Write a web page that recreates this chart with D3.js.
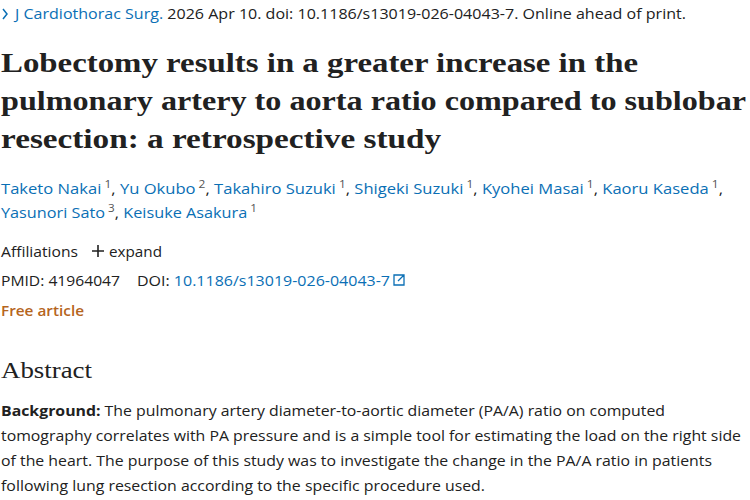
<!DOCTYPE html>
<html><head><meta charset="utf-8">
<script src="https://cdn.jsdelivr.net/npm/d3@7"></script>
<style>body{margin:0;background:#fff}</style></head>
<body><svg id="c" width="750" height="500"></svg>
<script>
const journal = "J Cardiothorac Surg.";
const citation = " 2026 Apr 10. doi: 10.1186/s13019-026-04043-7. Online ahead of print.";
const titleLines = ["Lobectomy results in a greater increase in the",
  "pulmonary artery to aorta ratio compared to sublobar",
  "resection: a retrospective study"];
const authors = ["Taketo Nakai","Yu Okubo","Takahiro Suzuki","Shigeki Suzuki","Kyohei Masai","Kaoru Kaseda","Yasunori Sato","Keisuke Asakura"];
const affil = ["1","2","1","1","1","1","3","1"];
const pmid = "41964047";
const doi = "10.1186/s13019-026-04043-7";
const bgLines = [" The pulmonary artery diameter-to-aortic diameter (PA/A) ratio on computed",
  "tomography correlates with PA pressure and is a simple tool for estimating the load on the right side",
  "of the heart. The purpose of this study was to investigate the change in the PA/A ratio in patients",
  "following lung resection according to the specific procedure used."];

const svg = d3.select("#c");
const sans = "'Open Sans', sans-serif", serif = "'Liberation Serif', serif";
const ink = "#212121", blue = "#0a6fb5", orange = "#b5651d";
function line(x, y, w, size, fam, parts, weight) {
  const t = svg.append("text").attr("x", x).attr("y", y).attr("font-size", size)
    .attr("font-family", fam).attr("fill", ink).attr("font-weight", weight || 400);
  parts.forEach(p => {
    const s = t.append("tspan").text(p.t);
    if (p.c) s.attr("fill", p.c);
    if (p.w) s.attr("font-weight", p.w);
    if (p.sup) s.attr("font-size", size * 0.72).attr("y", y - 6).attr("fill", "#555");
    else s.attr("y", y);
  });
  if (w) t.attr("textLength", w).attr("lengthAdjust", "spacingAndGlyphs");
  return t;
}
svg.append("path").attr("d", "M3,9 L7,14 L3,19").attr("fill", "none").attr("stroke", blue).attr("stroke-width", 1.5);
line(15, 19, 671, 15, sans, [{t: journal, c: blue}, {t: citation}]);
const tw = [637, 745, 440];
titleLines.forEach((s, i) => line(1, 72 + i * 38, tw[i], 28, serif, [{t: s}], 700));
function authorParts(idx) {
  const parts = [];
  idx.forEach(k => {
    parts.push({t: authors[k], c: blue});
    parts.push({t: " " + affil[k], sup: true});
    parts.push({t: ", "});
  });
  return parts;
}
line(1, 194, 722, 15, sans, authorParts([0,1,2,3,4,5]));
const p2 = authorParts([6,7]); p2.pop();
line(1, 218, 256, 15, sans, p2);
line(1, 257, 77, 15, sans, [{t: "Affiliations"}]);
svg.append("path").attr("d", "M92,251 h12 M98,245 v12").attr("stroke", ink).attr("stroke-width", 1.6);
line(109, 257, 53, 15, sans, [{t: "expand"}]);
line(1, 286, 119, 15, sans, [{t: "PMID: " + pmid}]);
line(137, 286, 253, 15, sans, [{t: "DOI: "}, {t: doi, c: blue}]);
svg.append("path").attr("d", "M400,275 h-6 v10 h10 v-6 M398,281 l6,-6 M400,275 h4 v4")
  .attr("fill", "none").attr("stroke", blue).attr("stroke-width", 1.3);
line(1, 316, 83, 15, sans, [{t: "Free article", c: orange, w: 600}]);
line(1, 378, 91, 23, serif, [{t: "Abstract"}]);
const bw = [664, 740, 711, 484];
bgLines.forEach((s, i) => line(1, 416 + i * 25, bw[i], 15, sans,
  i === 0 ? [{t: "Background:", w: 700}, {t: s}] : [{t: s}]));
</script></body></html>
